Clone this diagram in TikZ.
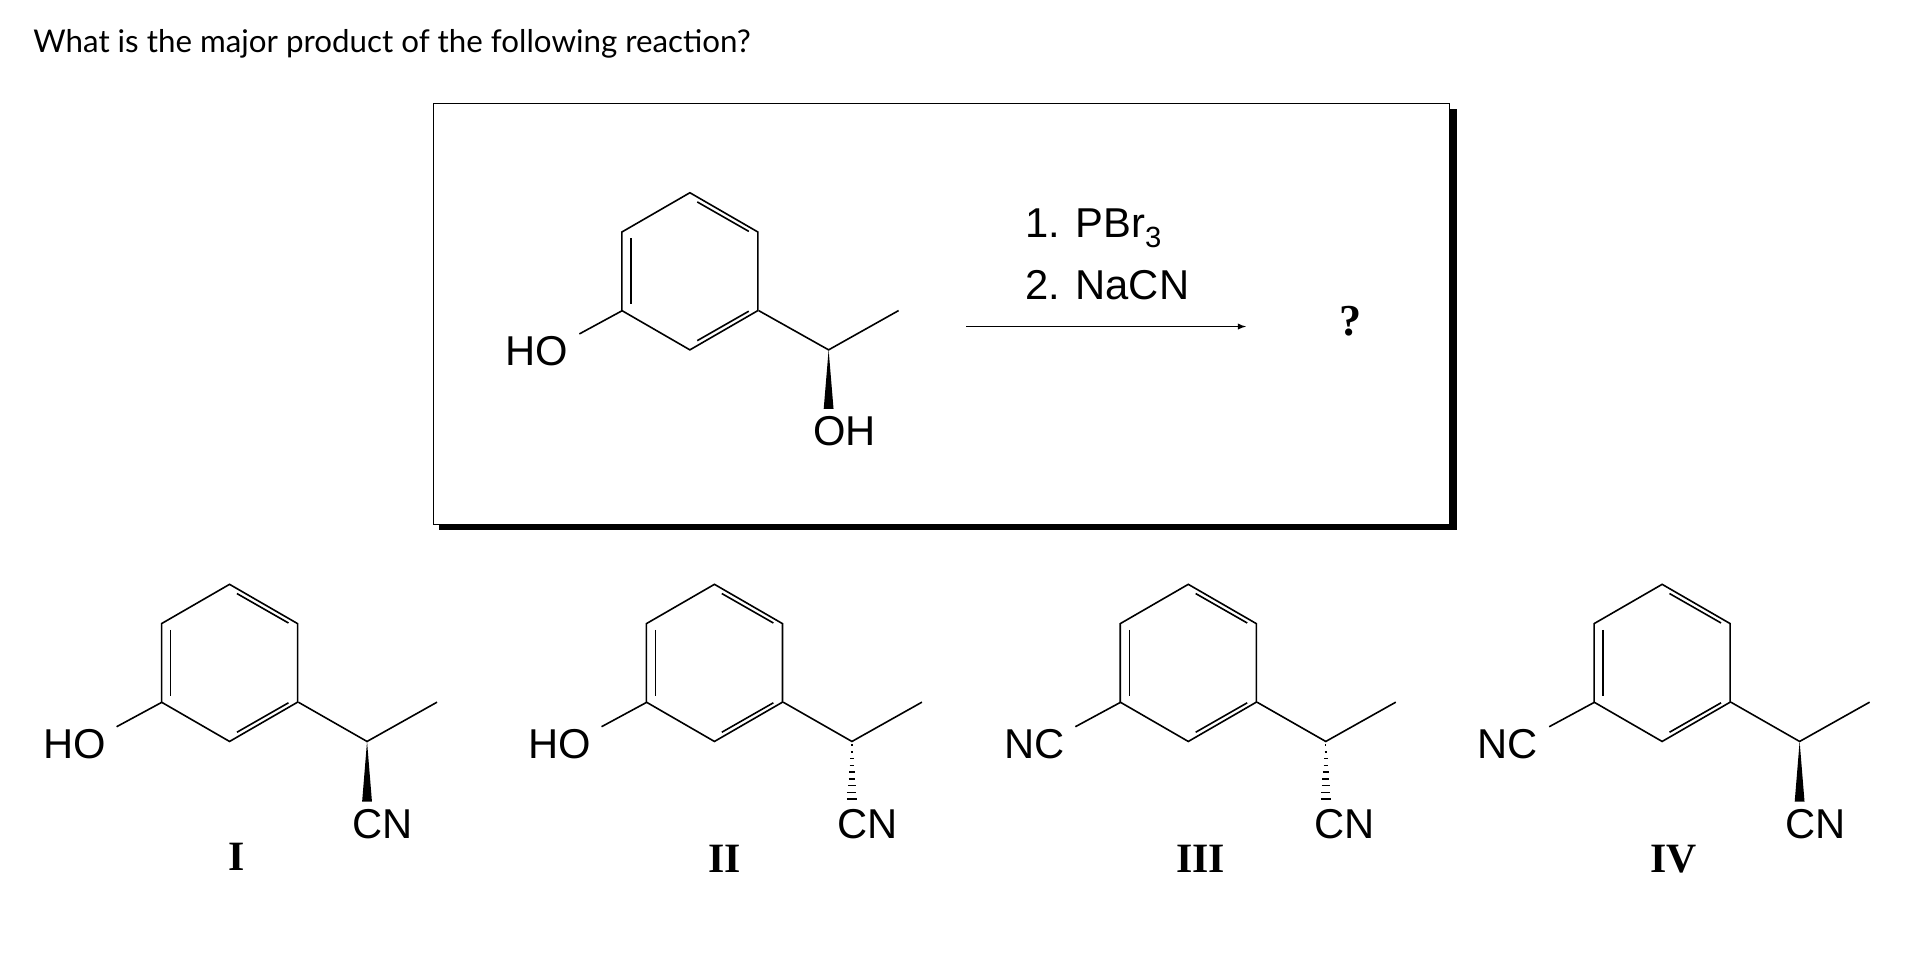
\documentclass[tikz,border=0pt]{standalone}
\usepackage{fontspec}
\setmainfont{Liberation Sans}
\newfontfamily\latofont{Lato}
\newfontfamily\timesfont{Liberation Serif}
\begin{document}
\begin{tikzpicture}[x=1pt,y=-1pt,
  bond/.style={line width=1.3pt},
  lab/.style={font=\fontsize{34}{34}\selectfont,inner sep=0pt},
  roman/.style={font=\timesfont\bfseries\fontsize{34}{34}\selectfont,inner sep=0pt},
  ring/.pic={
    \draw[bond] (0,-64)--(-55.4,-32)--(-55.4,32)--(0,64)--(55.4,32)--(55.4,-32)--cycle;
    \draw[bond] (-48,-27)--(-48,27);
    \draw[bond] (6,-56.5)--(48,-32.5);
    \draw[bond] (6,56.5)--(48,32.5);
  }]
\useasboundingbox (0,0) rectangle (1560,782);
\node[anchor=west,font=\latofont\fontsize{25.5}{25.5}\selectfont,inner sep=0pt] (q) at (27,36) {What is the major product of the following reaction?};
% box
\fill (358,422) rectangle (1187,432);
\fill (1178,89) rectangle (1187,432);
\draw[line width=1pt,fill=white] (353,84) rectangle (1181,427);
% reactant
\pic at (562,221) {ring};
\draw[bond] (507,253)--(472,272);
\node[lab] (ho0) at (437,286) {HO};
\draw[bond] (618,253)--(675,285)--(732,253);
\fill (675,285)--(671,333)--(679,333)--cycle;
\node[lab] (oh0) at (688,351) {OH};
\draw[bond,-latex] (787,266)--(1015,266);
\node[lab,anchor=west] (r1) at (835,186) {1. PBr\textsubscript{3}};
\node[lab,anchor=west] (r2) at (835,232) {2. NaCN};
\node[font=\timesfont\bfseries\fontsize{36}{36}\selectfont] (qm) at (1100,262) {?};
% products
\foreach \dx in {0,395,781,1167}{
  \begin{scope}[xshift=\dx]
  \pic at (187,540) {ring};
  \draw[bond] (132,572)--(95,592);
  \draw[bond] (243,572)--(299,604)--(356,572);
  \end{scope}
}
\node[lab] (g1) at (61,606) {HO};
\node[lab] (g2) at (456,606) {HO};
\node[lab] (g3) at (843,606) {NC};
\node[lab] (g4) at (1228,606) {NC};
\fill (299,604)--(295,653)--(303,653)--cycle;
\fill (1466,604)--(1462,653)--(1470,653)--cycle;
\foreach \cx in {694,1080}{
  \foreach \i in {0,...,8}{
    \draw[line width=1.2pt] ({\cx-0.5-\i*0.45},{607+\i*5.5})--({\cx+0.5+\i*0.45},{607+\i*5.5});
  }
}
\node[lab] (c1) at (312,671) {CN};
\node[lab] (c2) at (707,671) {CN};
\node[lab] (c3) at (1095,671) {CN};
\node[lab] (c4) at (1479,671) {CN};
\node[roman] (n1) at (193,698) {I};
\node[roman] (n2) at (590,700) {II};
\node[roman] (n3) at (978,700) {III};
\node[roman] (n4) at (1363,700) {IV};
\end{tikzpicture}
\end{document}
